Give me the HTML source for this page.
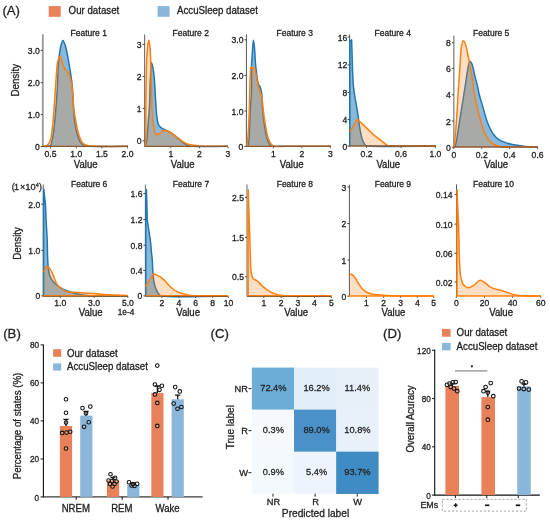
<!DOCTYPE html>
<html><head><meta charset="utf-8"><style>html,body{margin:0;padding:0;background:#fff;}svg{display:block;}.wrap{filter:blur(0.35px);width:550px;height:522px;overflow:hidden;}</style></head><body><div class="wrap">
<svg width="550" height="522" viewBox="0 0 550 522" font-family='"Liberation Sans", sans-serif'>
<rect width="550" height="522" fill="#fff"/>
<text transform="translate(2.40,14.60) scale(1,1.000)" font-size="13.20" text-anchor="start" fill="#222" stroke="#222" stroke-width="0.28" >(A)</text>
<text transform="translate(3.20,338.10) scale(1,1.000)" font-size="13.20" text-anchor="start" fill="#222" stroke="#222" stroke-width="0.28" >(B)</text>
<text transform="translate(210.50,338.10) scale(1,1.000)" font-size="13.20" text-anchor="start" fill="#222" stroke="#222" stroke-width="0.28" >(C)</text>
<text transform="translate(383.10,338.10) scale(1,1.000)" font-size="13.20" text-anchor="start" fill="#222" stroke="#222" stroke-width="0.28" >(D)</text>
<rect x="48.7" y="6.1" width="12" height="10.7" fill="#e8815a"/>
<text transform="translate(68.60,14.00) scale(1,1.050)" font-size="9.70" text-anchor="start" fill="#222" stroke="#222" stroke-width="0.28" >Our dataset</text>
<rect x="157.6" y="6.1" width="12" height="10.7" fill="#8ab6da"/>
<text transform="translate(177.00,14.00) scale(1,1.050)" font-size="9.70" text-anchor="start" fill="#222" stroke="#222" stroke-width="0.28" >AccuSleep dataset</text>
<text transform="translate(18.90,80.30) rotate(-90) scale(1,1.080)" font-size="9.80" text-anchor="middle" fill="#222" stroke="#222" stroke-width="0.28">Density</text>
<text transform="translate(20.70,243.40) rotate(-90) scale(1,1.080)" font-size="9.80" text-anchor="middle" fill="#222" stroke="#222" stroke-width="0.28">Density</text>
<text transform="translate(11.80,190.00) scale(1,1.050)" font-size="8.80" text-anchor="start" fill="#222" stroke="#222" stroke-width="0.28" >(</text>
<text transform="translate(14.00,190.00) scale(1,1.050)" font-size="9.00" text-anchor="start" fill="#222" stroke="#222" stroke-width="0.28" >1</text>
<text transform="translate(20.00,190.00) scale(1,1.050)" font-size="9.00" text-anchor="start" fill="#222" stroke="#222" stroke-width="0.28" >×</text>
<text transform="translate(25.30,190.00) scale(1,1.050)" font-size="9.40" text-anchor="start" fill="#222" stroke="#222" stroke-width="0.28" >10</text>
<text transform="translate(35.90,187.00) scale(1,1.050)" font-size="4.80" text-anchor="start" fill="#222" stroke="#222" stroke-width="0.28" >4</text>
<text transform="translate(39.00,190.00) scale(1,1.050)" font-size="8.80" text-anchor="start" fill="#222" stroke="#222" stroke-width="0.28" >)</text>
<text transform="translate(117.80,315.30) scale(1,1.100)" font-size="8.20" text-anchor="start" fill="#222" stroke="#222" stroke-width="0.28" >1e-4</text>
<line x1="42.80" y1="34.30" x2="42.80" y2="146.80" stroke="#9a9a9a" stroke-width="1.80"/>
<path d="M43.50,146.30 C43.50,146.30 48.88,146.80 50.30,145.70 C51.57,144.72 51.58,142.63 52.10,140.60 C52.82,137.77 53.29,134.11 53.80,130.20 C54.46,125.19 54.97,119.15 55.50,113.00 C56.11,105.89 56.69,98.11 57.20,90.00 C57.77,80.90 57.92,69.03 58.70,61.00 C59.26,55.26 59.87,50.04 60.80,46.30 C61.40,43.89 62.12,40.53 62.90,40.50 C63.69,40.47 64.77,44.09 65.50,46.30 C66.41,49.04 66.90,52.22 67.60,55.80 C68.50,60.39 69.56,66.86 70.30,71.60 C70.90,75.45 71.38,78.43 71.80,82.10 C72.26,86.10 72.53,89.77 72.90,94.70 C73.42,101.68 73.56,112.72 74.50,120.00 C75.22,125.62 76.14,130.66 77.40,134.80 C78.36,137.96 79.38,141.01 80.80,142.90 C81.82,144.25 82.89,145.12 84.30,145.70 C85.89,146.35 87.26,146.16 90.00,146.30 C97.07,146.67 128.00,146.30 128.00,146.30 L128.00,146.30 L43.50,146.30 Z" fill="rgba(31,119,180,0.52)" stroke="none"/>
<path d="M43.50,146.30 C43.50,146.30 48.88,146.80 50.30,145.70 C51.57,144.72 51.58,142.63 52.10,140.60 C52.82,137.77 53.29,134.11 53.80,130.20 C54.46,125.19 54.97,119.15 55.50,113.00 C56.11,105.89 56.69,98.11 57.20,90.00 C57.77,80.90 57.92,69.03 58.70,61.00 C59.26,55.26 59.87,50.04 60.80,46.30 C61.40,43.89 62.12,40.53 62.90,40.50 C63.69,40.47 64.77,44.09 65.50,46.30 C66.41,49.04 66.90,52.22 67.60,55.80 C68.50,60.39 69.56,66.86 70.30,71.60 C70.90,75.45 71.38,78.43 71.80,82.10 C72.26,86.10 72.53,89.77 72.90,94.70 C73.42,101.68 73.56,112.72 74.50,120.00 C75.22,125.62 76.14,130.66 77.40,134.80 C78.36,137.96 79.38,141.01 80.80,142.90 C81.82,144.25 82.89,145.12 84.30,145.70 C85.89,146.35 87.26,146.16 90.00,146.30 C97.07,146.67 128.00,146.30 128.00,146.30" fill="none" stroke="#1f77b4" stroke-width="1.5" stroke-linejoin="round"/>
<path d="M43.40,146.30 C43.40,146.30 45.86,146.37 46.90,145.70 C48.26,144.82 49.46,142.71 50.30,140.60 C51.40,137.83 51.57,134.11 52.10,130.20 C52.78,125.19 53.32,118.83 53.80,113.00 C54.29,107.00 54.68,99.42 55.00,94.70 C55.20,91.72 55.30,90.30 55.50,87.40 C55.79,83.14 56.20,76.20 56.60,71.60 C56.91,68.03 56.91,64.83 57.60,62.10 C58.16,59.88 59.14,56.28 60.00,56.30 C61.18,56.33 62.24,64.33 63.90,67.40 C65.26,69.92 67.61,71.74 68.70,73.70 C69.52,75.18 69.84,76.23 70.30,77.90 C70.94,80.20 71.37,83.49 71.80,86.30 C72.23,89.09 72.65,91.75 72.90,94.70 C73.18,97.95 72.94,101.26 73.30,105.00 C73.74,109.52 74.71,115.04 75.60,119.90 C76.46,124.60 77.20,129.62 78.50,133.70 C79.60,137.14 80.57,140.89 82.50,142.90 C84.05,144.51 86.23,145.13 88.30,145.70 C90.45,146.29 92.04,146.16 95.20,146.30 C102.07,146.60 128.00,146.30 128.00,146.30 L128.00,146.30 L43.40,146.30 Z" fill="rgba(255,127,14,0.25)" stroke="none"/>
<path d="M43.40,146.30 C43.40,146.30 45.86,146.37 46.90,145.70 C48.26,144.82 49.46,142.71 50.30,140.60 C51.40,137.83 51.57,134.11 52.10,130.20 C52.78,125.19 53.32,118.83 53.80,113.00 C54.29,107.00 54.68,99.42 55.00,94.70 C55.20,91.72 55.30,90.30 55.50,87.40 C55.79,83.14 56.20,76.20 56.60,71.60 C56.91,68.03 56.91,64.83 57.60,62.10 C58.16,59.88 59.14,56.28 60.00,56.30 C61.18,56.33 62.24,64.33 63.90,67.40 C65.26,69.92 67.61,71.74 68.70,73.70 C69.52,75.18 69.84,76.23 70.30,77.90 C70.94,80.20 71.37,83.49 71.80,86.30 C72.23,89.09 72.65,91.75 72.90,94.70 C73.18,97.95 72.94,101.26 73.30,105.00 C73.74,109.52 74.71,115.04 75.60,119.90 C76.46,124.60 77.20,129.62 78.50,133.70 C79.60,137.14 80.57,140.89 82.50,142.90 C84.05,144.51 86.23,145.13 88.30,145.70 C90.45,146.29 92.04,146.16 95.20,146.30 C102.07,146.60 128.00,146.30 128.00,146.30" fill="none" stroke="#ff7f0e" stroke-width="1.5" stroke-linejoin="round"/>
<line x1="42.80" y1="146.30" x2="128.00" y2="146.30" stroke="#8f5a32" stroke-width="1.3"/>
<line x1="40.80" y1="146.50" x2="42.80" y2="146.50" stroke="#444" stroke-width="1"/>
<text transform="translate(39.80,150.00) scale(1,1.150)" font-size="8.60" text-anchor="end" fill="#222" stroke="#222" stroke-width="0.28" >0</text>
<line x1="40.80" y1="114.50" x2="42.80" y2="114.50" stroke="#444" stroke-width="1"/>
<text transform="translate(39.80,118.00) scale(1,1.150)" font-size="8.60" text-anchor="end" fill="#222" stroke="#222" stroke-width="0.28" >1.0</text>
<line x1="40.80" y1="82.60" x2="42.80" y2="82.60" stroke="#444" stroke-width="1"/>
<text transform="translate(39.80,86.10) scale(1,1.150)" font-size="8.60" text-anchor="end" fill="#222" stroke="#222" stroke-width="0.28" >2.0</text>
<line x1="40.80" y1="50.40" x2="42.80" y2="50.40" stroke="#444" stroke-width="1"/>
<text transform="translate(39.80,53.90) scale(1,1.150)" font-size="8.60" text-anchor="end" fill="#222" stroke="#222" stroke-width="0.28" >3.0</text>
<line x1="50.50" y1="146.90" x2="50.50" y2="148.30" stroke="#555" stroke-width="1"/>
<text transform="translate(50.50,157.20) scale(1,1.120)" font-size="8.60" text-anchor="middle" fill="#222" stroke="#222" stroke-width="0.28" >0.5</text>
<line x1="76.30" y1="146.90" x2="76.30" y2="148.30" stroke="#555" stroke-width="1"/>
<text transform="translate(76.30,157.20) scale(1,1.120)" font-size="8.60" text-anchor="middle" fill="#222" stroke="#222" stroke-width="0.28" >1.0</text>
<line x1="101.90" y1="146.90" x2="101.90" y2="148.30" stroke="#555" stroke-width="1"/>
<text transform="translate(101.90,157.20) scale(1,1.120)" font-size="8.60" text-anchor="middle" fill="#222" stroke="#222" stroke-width="0.28" >1.5</text>
<line x1="127.50" y1="146.90" x2="127.50" y2="148.30" stroke="#555" stroke-width="1"/>
<text transform="translate(127.50,157.20) scale(1,1.120)" font-size="8.60" text-anchor="middle" fill="#222" stroke="#222" stroke-width="0.28" >2.0</text>
<text transform="translate(70.60,36.00) scale(1,1.080)" font-size="8.50" text-anchor="start" fill="#222" stroke="#222" stroke-width="0.28" >Feature 1</text>
<text transform="translate(73.80,168.20) scale(1,1.050)" font-size="9.60" text-anchor="start" fill="#222" stroke="#222" stroke-width="0.28" >Value</text>
<line x1="144.60" y1="34.40" x2="144.60" y2="146.80" stroke="#777777" stroke-width="1.20"/>
<path d="M145.20,146.30 C145.20,146.30 145.97,144.80 146.30,143.40 C147.06,140.14 147.39,132.52 147.90,126.60 C148.47,119.97 149.11,112.87 149.50,105.50 C149.93,97.41 149.92,87.71 150.30,80.00 C150.62,73.59 150.80,62.47 151.50,62.40 C151.92,62.36 152.66,66.27 153.10,68.60 C153.65,71.52 153.94,74.64 154.30,78.60 C154.82,84.35 155.15,93.21 155.60,99.80 C155.99,105.56 156.21,111.48 156.80,116.00 C157.23,119.30 157.43,122.45 158.40,124.50 C159.06,125.90 159.97,126.74 161.00,127.60 C162.06,128.48 163.31,128.98 164.70,129.70 C166.40,130.58 168.66,131.31 170.50,132.40 C172.36,133.51 173.85,134.75 175.80,136.30 C178.37,138.34 182.13,142.12 184.50,143.70 C185.93,144.66 186.93,145.17 188.20,145.60 C189.43,146.02 190.08,146.12 192.00,146.30 C197.87,146.84 228.00,146.30 228.00,146.30 L228.00,146.30 L145.20,146.30 Z" fill="rgba(31,119,180,0.52)" stroke="none"/>
<path d="M145.20,146.30 C145.20,146.30 145.97,144.80 146.30,143.40 C147.06,140.14 147.39,132.52 147.90,126.60 C148.47,119.97 149.11,112.87 149.50,105.50 C149.93,97.41 149.92,87.71 150.30,80.00 C150.62,73.59 150.80,62.47 151.50,62.40 C151.92,62.36 152.66,66.27 153.10,68.60 C153.65,71.52 153.94,74.64 154.30,78.60 C154.82,84.35 155.15,93.21 155.60,99.80 C155.99,105.56 156.21,111.48 156.80,116.00 C157.23,119.30 157.43,122.45 158.40,124.50 C159.06,125.90 159.97,126.74 161.00,127.60 C162.06,128.48 163.31,128.98 164.70,129.70 C166.40,130.58 168.66,131.31 170.50,132.40 C172.36,133.51 173.85,134.75 175.80,136.30 C178.37,138.34 182.13,142.12 184.50,143.70 C185.93,144.66 186.93,145.17 188.20,145.60 C189.43,146.02 190.08,146.12 192.00,146.30 C197.87,146.84 228.00,146.30 228.00,146.30" fill="none" stroke="#1f77b4" stroke-width="1.5" stroke-linejoin="round"/>
<path d="M145.40,146.30 C145.40,146.30 145.70,141.18 145.80,137.00 C146.00,128.33 145.79,107.52 145.90,97.00 C145.97,90.14 146.05,86.28 146.20,80.00 C146.39,72.19 146.43,61.04 147.00,53.70 C147.41,48.38 148.12,40.01 148.70,40.00 C149.13,39.99 149.66,44.26 150.00,47.50 C150.62,53.37 150.71,63.90 151.00,72.40 C151.31,81.31 151.60,92.72 151.80,99.80 C151.93,104.29 151.84,106.81 152.10,110.80 C152.41,115.60 153.00,122.45 153.70,126.60 C154.16,129.36 154.54,131.98 155.30,133.40 C155.73,134.20 156.19,134.91 156.80,135.00 C157.54,135.10 158.48,134.04 159.50,133.40 C160.86,132.55 162.50,130.49 164.20,130.30 C165.99,130.10 168.02,131.46 170.00,132.50 C172.37,133.74 174.88,135.82 177.30,137.50 C179.71,139.18 182.14,141.35 184.50,142.60 C186.49,143.66 188.21,144.26 190.40,144.80 C192.99,145.44 196.03,145.65 199.10,145.90 C202.52,146.18 205.91,146.23 210.00,146.30 C215.25,146.40 228.00,146.30 228.00,146.30 L228.00,146.30 L145.40,146.30 Z" fill="rgba(255,127,14,0.25)" stroke="none"/>
<path d="M145.40,146.30 C145.40,146.30 145.70,141.18 145.80,137.00 C146.00,128.33 145.79,107.52 145.90,97.00 C145.97,90.14 146.05,86.28 146.20,80.00 C146.39,72.19 146.43,61.04 147.00,53.70 C147.41,48.38 148.12,40.01 148.70,40.00 C149.13,39.99 149.66,44.26 150.00,47.50 C150.62,53.37 150.71,63.90 151.00,72.40 C151.31,81.31 151.60,92.72 151.80,99.80 C151.93,104.29 151.84,106.81 152.10,110.80 C152.41,115.60 153.00,122.45 153.70,126.60 C154.16,129.36 154.54,131.98 155.30,133.40 C155.73,134.20 156.19,134.91 156.80,135.00 C157.54,135.10 158.48,134.04 159.50,133.40 C160.86,132.55 162.50,130.49 164.20,130.30 C165.99,130.10 168.02,131.46 170.00,132.50 C172.37,133.74 174.88,135.82 177.30,137.50 C179.71,139.18 182.14,141.35 184.50,142.60 C186.49,143.66 188.21,144.26 190.40,144.80 C192.99,145.44 196.03,145.65 199.10,145.90 C202.52,146.18 205.91,146.23 210.00,146.30 C215.25,146.40 228.00,146.30 228.00,146.30" fill="none" stroke="#ff7f0e" stroke-width="1.5" stroke-linejoin="round"/>
<line x1="144.60" y1="146.30" x2="228.00" y2="146.30" stroke="#8f5a32" stroke-width="1.3"/>
<line x1="142.60" y1="140.80" x2="144.60" y2="140.80" stroke="#444" stroke-width="1"/>
<text transform="translate(141.60,144.30) scale(1,1.150)" font-size="8.60" text-anchor="end" fill="#222" stroke="#222" stroke-width="0.28" >0</text>
<line x1="142.60" y1="108.40" x2="144.60" y2="108.40" stroke="#444" stroke-width="1"/>
<text transform="translate(141.60,111.90) scale(1,1.150)" font-size="8.60" text-anchor="end" fill="#222" stroke="#222" stroke-width="0.28" >1</text>
<line x1="142.60" y1="76.60" x2="144.60" y2="76.60" stroke="#444" stroke-width="1"/>
<text transform="translate(141.60,80.10) scale(1,1.150)" font-size="8.60" text-anchor="end" fill="#222" stroke="#222" stroke-width="0.28" >2</text>
<line x1="142.60" y1="44.40" x2="144.60" y2="44.40" stroke="#444" stroke-width="1"/>
<text transform="translate(141.60,47.90) scale(1,1.150)" font-size="8.60" text-anchor="end" fill="#222" stroke="#222" stroke-width="0.28" >3</text>
<line x1="170.80" y1="146.90" x2="170.80" y2="148.30" stroke="#555" stroke-width="1"/>
<text transform="translate(170.80,157.20) scale(1,1.120)" font-size="8.60" text-anchor="middle" fill="#222" stroke="#222" stroke-width="0.28" >1</text>
<line x1="199.50" y1="146.90" x2="199.50" y2="148.30" stroke="#555" stroke-width="1"/>
<text transform="translate(199.50,157.20) scale(1,1.120)" font-size="8.60" text-anchor="middle" fill="#222" stroke="#222" stroke-width="0.28" >2</text>
<line x1="228.00" y1="146.90" x2="228.00" y2="148.30" stroke="#555" stroke-width="1"/>
<text transform="translate(228.00,157.20) scale(1,1.120)" font-size="8.60" text-anchor="middle" fill="#222" stroke="#222" stroke-width="0.28" >3</text>
<text transform="translate(172.60,36.00) scale(1,1.080)" font-size="8.50" text-anchor="start" fill="#222" stroke="#222" stroke-width="0.28" >Feature 2</text>
<text transform="translate(170.80,168.20) scale(1,1.050)" font-size="9.60" text-anchor="start" fill="#222" stroke="#222" stroke-width="0.28" >Value</text>
<line x1="246.40" y1="34.40" x2="246.40" y2="146.80" stroke="#555555" stroke-width="1.00"/>
<path d="M248.00,146.30 C248.00,146.30 248.72,142.45 249.00,139.40 C249.55,133.46 249.66,121.49 250.10,113.00 C250.51,105.07 251.26,97.75 251.50,90.00 C251.74,82.09 251.28,72.90 251.50,66.00 C251.67,60.76 252.07,56.64 252.40,52.20 C252.71,48.06 252.99,40.22 253.40,40.20 C253.70,40.19 254.11,43.88 254.40,46.50 C254.88,50.81 255.05,58.69 255.50,63.70 C255.85,67.61 256.22,70.65 256.70,74.10 C257.18,77.55 257.49,82.26 258.40,84.40 C258.87,85.52 259.62,85.63 260.10,86.70 C260.92,88.52 261.41,91.80 261.80,94.80 C262.27,98.48 262.02,102.60 262.40,107.20 C262.88,113.00 263.80,121.15 264.70,126.80 C265.39,131.16 266.06,135.17 267.00,138.30 C267.68,140.57 268.25,142.66 269.30,144.00 C270.10,145.02 270.91,145.66 272.20,146.10 C274.10,146.74 276.26,146.25 280.00,146.30 C289.56,146.42 331.00,146.30 331.00,146.30 L331.00,146.30 L248.00,146.30 Z" fill="rgba(31,119,180,0.52)" stroke="none"/>
<path d="M248.00,146.30 C248.00,146.30 248.72,142.45 249.00,139.40 C249.55,133.46 249.66,121.49 250.10,113.00 C250.51,105.07 251.26,97.75 251.50,90.00 C251.74,82.09 251.28,72.90 251.50,66.00 C251.67,60.76 252.07,56.64 252.40,52.20 C252.71,48.06 252.99,40.22 253.40,40.20 C253.70,40.19 254.11,43.88 254.40,46.50 C254.88,50.81 255.05,58.69 255.50,63.70 C255.85,67.61 256.22,70.65 256.70,74.10 C257.18,77.55 257.49,82.26 258.40,84.40 C258.87,85.52 259.62,85.63 260.10,86.70 C260.92,88.52 261.41,91.80 261.80,94.80 C262.27,98.48 262.02,102.60 262.40,107.20 C262.88,113.00 263.80,121.15 264.70,126.80 C265.39,131.16 266.06,135.17 267.00,138.30 C267.68,140.57 268.25,142.66 269.30,144.00 C270.10,145.02 270.91,145.66 272.20,146.10 C274.10,146.74 276.26,146.25 280.00,146.30 C289.56,146.42 331.00,146.30 331.00,146.30" fill="none" stroke="#1f77b4" stroke-width="1.5" stroke-linejoin="round"/>
<path d="M246.90,146.30 C246.90,146.30 247.67,140.12 248.00,136.00 C248.49,129.86 248.85,121.62 249.20,113.00 C249.65,101.96 249.69,83.13 250.30,75.20 C250.58,71.54 250.27,67.90 251.30,67.20 C251.86,66.82 253.01,67.46 253.60,67.80 C254.08,68.08 254.38,68.31 254.70,68.90 C255.35,70.09 255.68,73.14 256.10,75.20 C256.51,77.17 256.82,79.08 257.20,81.00 C257.58,82.91 257.86,84.73 258.40,86.70 C259.00,88.91 260.07,91.72 260.70,93.60 C261.13,94.90 261.46,95.36 261.80,96.90 C262.53,100.22 262.90,107.74 263.60,113.00 C264.27,118.07 265.05,123.39 265.90,127.90 C266.61,131.69 267.18,135.40 268.20,138.30 C268.98,140.54 269.78,142.67 271.00,144.00 C271.98,145.07 272.94,145.65 274.50,146.10 C277.00,146.82 280.26,146.25 285.00,146.30 C294.91,146.39 331.00,146.30 331.00,146.30 L331.00,146.30 L246.90,146.30 Z" fill="rgba(255,127,14,0.25)" stroke="none"/>
<path d="M246.90,146.30 C246.90,146.30 247.67,140.12 248.00,136.00 C248.49,129.86 248.85,121.62 249.20,113.00 C249.65,101.96 249.69,83.13 250.30,75.20 C250.58,71.54 250.27,67.90 251.30,67.20 C251.86,66.82 253.01,67.46 253.60,67.80 C254.08,68.08 254.38,68.31 254.70,68.90 C255.35,70.09 255.68,73.14 256.10,75.20 C256.51,77.17 256.82,79.08 257.20,81.00 C257.58,82.91 257.86,84.73 258.40,86.70 C259.00,88.91 260.07,91.72 260.70,93.60 C261.13,94.90 261.46,95.36 261.80,96.90 C262.53,100.22 262.90,107.74 263.60,113.00 C264.27,118.07 265.05,123.39 265.90,127.90 C266.61,131.69 267.18,135.40 268.20,138.30 C268.98,140.54 269.78,142.67 271.00,144.00 C271.98,145.07 272.94,145.65 274.50,146.10 C277.00,146.82 280.26,146.25 285.00,146.30 C294.91,146.39 331.00,146.30 331.00,146.30" fill="none" stroke="#ff7f0e" stroke-width="1.5" stroke-linejoin="round"/>
<line x1="246.40" y1="146.30" x2="331.00" y2="146.30" stroke="#8f5a32" stroke-width="1.3"/>
<line x1="244.40" y1="146.40" x2="246.40" y2="146.40" stroke="#444" stroke-width="1"/>
<text transform="translate(243.40,149.90) scale(1,1.150)" font-size="8.60" text-anchor="end" fill="#222" stroke="#222" stroke-width="0.28" >0</text>
<line x1="244.40" y1="111.00" x2="246.40" y2="111.00" stroke="#444" stroke-width="1"/>
<text transform="translate(243.40,114.50) scale(1,1.150)" font-size="8.60" text-anchor="end" fill="#222" stroke="#222" stroke-width="0.28" >1.0</text>
<line x1="244.40" y1="75.40" x2="246.40" y2="75.40" stroke="#444" stroke-width="1"/>
<text transform="translate(243.40,78.90) scale(1,1.150)" font-size="8.60" text-anchor="end" fill="#222" stroke="#222" stroke-width="0.28" >2.0</text>
<line x1="244.40" y1="39.80" x2="246.40" y2="39.80" stroke="#444" stroke-width="1"/>
<text transform="translate(243.40,43.30) scale(1,1.150)" font-size="8.60" text-anchor="end" fill="#222" stroke="#222" stroke-width="0.28" >3.0</text>
<line x1="273.30" y1="146.90" x2="273.30" y2="148.30" stroke="#555" stroke-width="1"/>
<text transform="translate(273.30,157.20) scale(1,1.120)" font-size="8.60" text-anchor="middle" fill="#222" stroke="#222" stroke-width="0.28" >1</text>
<line x1="301.80" y1="146.90" x2="301.80" y2="148.30" stroke="#555" stroke-width="1"/>
<text transform="translate(301.80,157.20) scale(1,1.120)" font-size="8.60" text-anchor="middle" fill="#222" stroke="#222" stroke-width="0.28" >2</text>
<line x1="330.40" y1="146.90" x2="330.40" y2="148.30" stroke="#555" stroke-width="1"/>
<text transform="translate(330.40,157.20) scale(1,1.120)" font-size="8.60" text-anchor="middle" fill="#222" stroke="#222" stroke-width="0.28" >3</text>
<text transform="translate(276.60,36.00) scale(1,1.080)" font-size="8.50" text-anchor="start" fill="#222" stroke="#222" stroke-width="0.28" >Feature 3</text>
<text transform="translate(279.80,168.20) scale(1,1.050)" font-size="9.60" text-anchor="start" fill="#222" stroke="#222" stroke-width="0.28" >Value</text>
<line x1="349.60" y1="34.50" x2="349.60" y2="146.50" stroke="#555555" stroke-width="1.00"/>
<path d="M349.80,146.00 L349.80,41.00 L351.60,39.80 C351.60,39.80 351.94,49.79 352.10,55.00 C352.27,60.51 352.38,66.71 352.60,72.00 C352.79,76.62 353.30,85.00 353.30,85.00 C353.30,85.00 354.10,91.76 354.60,95.00 C355.07,98.08 355.66,100.78 356.20,104.00 C356.82,107.71 357.49,111.95 358.10,116.00 C358.72,120.15 359.16,124.54 359.90,128.60 C360.60,132.46 361.25,136.77 362.40,139.80 C363.26,142.06 364.29,144.48 365.50,145.40 C366.26,145.98 366.58,145.83 368.00,146.00 C375.28,146.86 436.00,146.00 436.00,146.00 L436.00,146.00 L349.80,146.00 Z" fill="rgba(31,119,180,0.52)" stroke="none"/>
<path d="M349.80,146.00 L349.80,41.00 L351.60,39.80 C351.60,39.80 351.94,49.79 352.10,55.00 C352.27,60.51 352.38,66.71 352.60,72.00 C352.79,76.62 353.30,85.00 353.30,85.00 C353.30,85.00 354.10,91.76 354.60,95.00 C355.07,98.08 355.66,100.78 356.20,104.00 C356.82,107.71 357.49,111.95 358.10,116.00 C358.72,120.15 359.16,124.54 359.90,128.60 C360.60,132.46 361.25,136.77 362.40,139.80 C363.26,142.06 364.29,144.48 365.50,145.40 C366.26,145.98 366.58,145.83 368.00,146.00 C375.28,146.86 436.00,146.00 436.00,146.00" fill="none" stroke="#1f77b4" stroke-width="1.5" stroke-linejoin="round"/>
<path d="M350.00,131.70 L357.40,119.20 L373.40,134.60 L387.50,145.60 C387.50,145.60 394.62,145.92 399.80,146.00 C408.69,146.14 436.00,146.00 436.00,146.00 L436.00,146.00 L350.00,146.00 Z" fill="rgba(255,127,14,0.25)" stroke="none"/>
<path d="M350.00,131.70 L357.40,119.20 L373.40,134.60 L387.50,145.60 C387.50,145.60 394.62,145.92 399.80,146.00 C408.69,146.14 436.00,146.00 436.00,146.00" fill="none" stroke="#ff7f0e" stroke-width="1.5" stroke-linejoin="round"/>
<line x1="349.60" y1="146.00" x2="436.00" y2="146.00" stroke="#8f5a32" stroke-width="1.3"/>
<line x1="347.60" y1="146.00" x2="349.60" y2="146.00" stroke="#444" stroke-width="1"/>
<text transform="translate(347.40,149.50) scale(1,1.150)" font-size="8.60" text-anchor="end" fill="#222" stroke="#222" stroke-width="0.28" >0</text>
<line x1="347.60" y1="119.50" x2="349.60" y2="119.50" stroke="#444" stroke-width="1"/>
<text transform="translate(347.40,123.00) scale(1,1.150)" font-size="8.60" text-anchor="end" fill="#222" stroke="#222" stroke-width="0.28" >4</text>
<line x1="347.60" y1="92.60" x2="349.60" y2="92.60" stroke="#444" stroke-width="1"/>
<text transform="translate(347.40,96.10) scale(1,1.150)" font-size="8.60" text-anchor="end" fill="#222" stroke="#222" stroke-width="0.28" >8</text>
<line x1="347.60" y1="64.90" x2="349.60" y2="64.90" stroke="#444" stroke-width="1"/>
<text transform="translate(347.40,68.40) scale(1,1.150)" font-size="8.60" text-anchor="end" fill="#222" stroke="#222" stroke-width="0.28" >12</text>
<line x1="347.60" y1="37.00" x2="349.60" y2="37.00" stroke="#444" stroke-width="1"/>
<text transform="translate(347.40,40.50) scale(1,1.150)" font-size="8.60" text-anchor="end" fill="#222" stroke="#222" stroke-width="0.28" >16</text>
<line x1="366.60" y1="146.60" x2="366.60" y2="148.00" stroke="#555" stroke-width="1"/>
<text transform="translate(366.60,156.90) scale(1,1.120)" font-size="8.60" text-anchor="middle" fill="#222" stroke="#222" stroke-width="0.28" >0.2</text>
<line x1="401.00" y1="146.60" x2="401.00" y2="148.00" stroke="#555" stroke-width="1"/>
<text transform="translate(401.00,156.90) scale(1,1.120)" font-size="8.60" text-anchor="middle" fill="#222" stroke="#222" stroke-width="0.28" >0.6</text>
<line x1="435.40" y1="146.60" x2="435.40" y2="148.00" stroke="#555" stroke-width="1"/>
<text transform="translate(435.40,156.90) scale(1,1.120)" font-size="8.60" text-anchor="middle" fill="#222" stroke="#222" stroke-width="0.28" >1.0</text>
<text transform="translate(374.60,36.00) scale(1,1.080)" font-size="8.50" text-anchor="start" fill="#222" stroke="#222" stroke-width="0.28" >Feature 4</text>
<text transform="translate(376.40,168.20) scale(1,1.050)" font-size="9.60" text-anchor="start" fill="#222" stroke="#222" stroke-width="0.28" >Value</text>
<line x1="453.80" y1="35.60" x2="453.80" y2="147.50" stroke="#999999" stroke-width="1.60"/>
<path d="M454.50,147.00 C454.50,147.00 455.16,146.03 455.50,145.00 C456.45,142.14 457.47,134.16 458.50,128.00 C459.72,120.69 461.08,111.64 462.30,104.00 C463.41,97.03 464.50,90.30 465.50,84.00 C466.39,78.37 467.12,72.19 468.00,68.00 C468.58,65.24 468.97,61.38 469.80,61.20 C470.36,61.08 471.19,62.47 471.80,63.70 C472.97,66.07 473.73,71.37 474.70,75.20 C475.67,79.03 476.79,83.19 477.60,86.70 C478.28,89.63 478.57,91.87 479.30,94.80 C480.19,98.34 481.46,102.21 482.70,106.40 C484.18,111.37 485.65,117.82 487.60,122.70 C489.29,126.95 491.21,131.17 493.40,134.20 C495.14,136.60 496.85,138.41 499.10,139.90 C501.45,141.46 504.30,142.29 507.30,143.20 C510.75,144.25 514.75,144.98 518.70,145.60 C522.90,146.26 528.24,146.81 531.80,147.00 C534.24,147.13 538.00,147.00 538.00,147.00 L538.00,147.00 L454.50,147.00 Z" fill="rgba(31,119,180,0.52)" stroke="none"/>
<path d="M454.50,147.00 C454.50,147.00 455.16,146.03 455.50,145.00 C456.45,142.14 457.47,134.16 458.50,128.00 C459.72,120.69 461.08,111.64 462.30,104.00 C463.41,97.03 464.50,90.30 465.50,84.00 C466.39,78.37 467.12,72.19 468.00,68.00 C468.58,65.24 468.97,61.38 469.80,61.20 C470.36,61.08 471.19,62.47 471.80,63.70 C472.97,66.07 473.73,71.37 474.70,75.20 C475.67,79.03 476.79,83.19 477.60,86.70 C478.28,89.63 478.57,91.87 479.30,94.80 C480.19,98.34 481.46,102.21 482.70,106.40 C484.18,111.37 485.65,117.82 487.60,122.70 C489.29,126.95 491.21,131.17 493.40,134.20 C495.14,136.60 496.85,138.41 499.10,139.90 C501.45,141.46 504.30,142.29 507.30,143.20 C510.75,144.25 514.75,144.98 518.70,145.60 C522.90,146.26 528.24,146.81 531.80,147.00 C534.24,147.13 538.00,147.00 538.00,147.00" fill="none" stroke="#1f77b4" stroke-width="1.5" stroke-linejoin="round"/>
<path d="M454.10,147.00 C454.10,147.00 455.20,136.83 455.70,130.90 C456.32,123.59 457.00,113.06 457.40,106.40 C457.68,101.82 457.75,98.83 458.00,94.80 C458.27,90.40 458.67,85.86 459.00,81.00 C459.37,75.56 459.68,69.46 460.10,63.70 C460.52,57.96 460.72,50.68 461.50,46.50 C461.96,44.02 462.44,40.81 463.20,40.70 C463.83,40.61 464.84,42.65 465.50,44.20 C466.54,46.66 467.05,50.97 467.80,54.50 C468.59,58.22 469.35,62.07 470.10,66.00 C470.89,70.12 471.71,74.21 472.40,78.70 C473.17,83.74 473.55,89.89 474.40,94.80 C475.13,99.00 476.00,102.21 477.00,106.40 C478.18,111.38 479.61,117.77 481.10,122.70 C482.37,126.90 483.45,130.79 485.20,134.20 C486.78,137.28 488.51,140.33 490.90,142.40 C493.19,144.38 496.08,145.71 499.10,146.50 C502.39,147.36 505.52,146.90 510.00,147.00 C517.17,147.16 538.00,147.00 538.00,147.00 L538.00,147.00 L454.10,147.00 Z" fill="rgba(255,127,14,0.25)" stroke="none"/>
<path d="M454.10,147.00 C454.10,147.00 455.20,136.83 455.70,130.90 C456.32,123.59 457.00,113.06 457.40,106.40 C457.68,101.82 457.75,98.83 458.00,94.80 C458.27,90.40 458.67,85.86 459.00,81.00 C459.37,75.56 459.68,69.46 460.10,63.70 C460.52,57.96 460.72,50.68 461.50,46.50 C461.96,44.02 462.44,40.81 463.20,40.70 C463.83,40.61 464.84,42.65 465.50,44.20 C466.54,46.66 467.05,50.97 467.80,54.50 C468.59,58.22 469.35,62.07 470.10,66.00 C470.89,70.12 471.71,74.21 472.40,78.70 C473.17,83.74 473.55,89.89 474.40,94.80 C475.13,99.00 476.00,102.21 477.00,106.40 C478.18,111.38 479.61,117.77 481.10,122.70 C482.37,126.90 483.45,130.79 485.20,134.20 C486.78,137.28 488.51,140.33 490.90,142.40 C493.19,144.38 496.08,145.71 499.10,146.50 C502.39,147.36 505.52,146.90 510.00,147.00 C517.17,147.16 538.00,147.00 538.00,147.00" fill="none" stroke="#ff7f0e" stroke-width="1.5" stroke-linejoin="round"/>
<line x1="453.80" y1="147.00" x2="538.00" y2="147.00" stroke="#8f5a32" stroke-width="1.3"/>
<line x1="451.80" y1="147.20" x2="453.80" y2="147.20" stroke="#444" stroke-width="1"/>
<text transform="translate(450.80,150.70) scale(1,1.150)" font-size="8.60" text-anchor="end" fill="#222" stroke="#222" stroke-width="0.28" >0</text>
<line x1="451.80" y1="121.00" x2="453.80" y2="121.00" stroke="#444" stroke-width="1"/>
<text transform="translate(450.80,124.50) scale(1,1.150)" font-size="8.60" text-anchor="end" fill="#222" stroke="#222" stroke-width="0.28" >2</text>
<line x1="451.80" y1="94.80" x2="453.80" y2="94.80" stroke="#444" stroke-width="1"/>
<text transform="translate(450.80,98.30) scale(1,1.150)" font-size="8.60" text-anchor="end" fill="#222" stroke="#222" stroke-width="0.28" >4</text>
<line x1="451.80" y1="68.40" x2="453.80" y2="68.40" stroke="#444" stroke-width="1"/>
<text transform="translate(450.80,71.90) scale(1,1.150)" font-size="8.60" text-anchor="end" fill="#222" stroke="#222" stroke-width="0.28" >6</text>
<line x1="451.80" y1="42.60" x2="453.80" y2="42.60" stroke="#444" stroke-width="1"/>
<text transform="translate(450.80,46.10) scale(1,1.150)" font-size="8.60" text-anchor="end" fill="#222" stroke="#222" stroke-width="0.28" >8</text>
<line x1="453.80" y1="147.60" x2="453.80" y2="149.00" stroke="#555" stroke-width="1"/>
<text transform="translate(453.80,157.90) scale(1,1.120)" font-size="8.60" text-anchor="middle" fill="#222" stroke="#222" stroke-width="0.28" >0</text>
<line x1="481.70" y1="147.60" x2="481.70" y2="149.00" stroke="#555" stroke-width="1"/>
<text transform="translate(481.70,157.90) scale(1,1.120)" font-size="8.60" text-anchor="middle" fill="#222" stroke="#222" stroke-width="0.28" >0.2</text>
<line x1="509.60" y1="147.60" x2="509.60" y2="149.00" stroke="#555" stroke-width="1"/>
<text transform="translate(509.60,157.90) scale(1,1.120)" font-size="8.60" text-anchor="middle" fill="#222" stroke="#222" stroke-width="0.28" >0.4</text>
<line x1="537.60" y1="147.60" x2="537.60" y2="149.00" stroke="#555" stroke-width="1"/>
<text transform="translate(537.60,157.90) scale(1,1.120)" font-size="8.60" text-anchor="middle" fill="#222" stroke="#222" stroke-width="0.28" >0.6</text>
<text transform="translate(473.00,36.00) scale(1,1.080)" font-size="8.50" text-anchor="start" fill="#222" stroke="#222" stroke-width="0.28" >Feature 5</text>
<text transform="translate(484.30,168.20) scale(1,1.050)" font-size="9.60" text-anchor="start" fill="#222" stroke="#222" stroke-width="0.28" >Value</text>
<line x1="43.30" y1="184.60" x2="43.30" y2="296.40" stroke="#777777" stroke-width="1.20"/>
<path d="M43.60,295.90 L43.60,192.00 L43.80,189.20 C43.80,189.20 44.17,192.79 44.40,195.00 C44.71,197.94 45.22,201.55 45.50,205.30 C45.83,209.80 45.84,214.89 46.10,220.20 C46.39,226.29 46.97,233.82 47.20,239.80 C47.40,244.83 47.34,249.20 47.50,253.70 C47.65,257.95 47.66,262.20 48.10,266.10 C48.50,269.63 48.81,273.25 49.90,276.10 C50.82,278.51 52.09,280.47 53.70,282.30 C55.39,284.22 57.65,285.86 59.90,287.30 C62.21,288.77 64.60,289.92 67.40,291.00 C70.71,292.28 74.74,293.40 78.60,294.20 C82.60,295.02 85.75,295.46 91.00,295.80 C100.03,296.39 128.00,295.90 128.00,295.90 L128.00,295.90 L43.60,295.90 Z" fill="rgba(31,119,180,0.52)" stroke="none"/>
<path d="M43.60,295.90 L43.60,192.00 L43.80,189.20 C43.80,189.20 44.17,192.79 44.40,195.00 C44.71,197.94 45.22,201.55 45.50,205.30 C45.83,209.80 45.84,214.89 46.10,220.20 C46.39,226.29 46.97,233.82 47.20,239.80 C47.40,244.83 47.34,249.20 47.50,253.70 C47.65,257.95 47.66,262.20 48.10,266.10 C48.50,269.63 48.81,273.25 49.90,276.10 C50.82,278.51 52.09,280.47 53.70,282.30 C55.39,284.22 57.65,285.86 59.90,287.30 C62.21,288.77 64.60,289.92 67.40,291.00 C70.71,292.28 74.74,293.40 78.60,294.20 C82.60,295.02 85.75,295.46 91.00,295.80 C100.03,296.39 128.00,295.90 128.00,295.90" fill="none" stroke="#1f77b4" stroke-width="1.5" stroke-linejoin="round"/>
<path d="M43.50,271.70 L46.80,266.10 C46.80,266.10 48.97,267.45 49.90,268.60 C51.14,270.13 52.05,272.57 53.10,274.90 C54.35,277.67 55.21,281.81 56.80,284.20 C58.05,286.07 59.50,287.28 61.20,288.50 C63.01,289.80 64.95,291.01 67.40,291.70 C70.51,292.57 74.52,292.23 78.60,292.50 C83.50,292.83 90.13,293.13 94.80,293.50 C98.36,293.78 100.38,294.13 104.20,294.40 C110.16,294.81 127.10,295.40 127.10,295.40 L127.10,295.90 L43.50,295.90 Z" fill="rgba(255,127,14,0.25)" stroke="none"/>
<path d="M43.50,271.70 L46.80,266.10 C46.80,266.10 48.97,267.45 49.90,268.60 C51.14,270.13 52.05,272.57 53.10,274.90 C54.35,277.67 55.21,281.81 56.80,284.20 C58.05,286.07 59.50,287.28 61.20,288.50 C63.01,289.80 64.95,291.01 67.40,291.70 C70.51,292.57 74.52,292.23 78.60,292.50 C83.50,292.83 90.13,293.13 94.80,293.50 C98.36,293.78 100.38,294.13 104.20,294.40 C110.16,294.81 127.10,295.40 127.10,295.40" fill="none" stroke="#ff7f0e" stroke-width="1.5" stroke-linejoin="round"/>
<line x1="43.30" y1="295.70" x2="128.00" y2="295.70" stroke="#ff7f0e" stroke-width="1.5"/>
<line x1="43.30" y1="296.40" x2="128.00" y2="296.40" stroke="#7a4a22" stroke-width="0.8"/>
<line x1="41.30" y1="295.90" x2="43.30" y2="295.90" stroke="#444" stroke-width="1"/>
<text transform="translate(40.30,299.40) scale(1,1.150)" font-size="8.60" text-anchor="end" fill="#222" stroke="#222" stroke-width="0.28" >0</text>
<line x1="41.30" y1="250.40" x2="43.30" y2="250.40" stroke="#444" stroke-width="1"/>
<text transform="translate(40.30,253.90) scale(1,1.150)" font-size="8.60" text-anchor="end" fill="#222" stroke="#222" stroke-width="0.28" >1.0</text>
<line x1="41.30" y1="204.20" x2="43.30" y2="204.20" stroke="#444" stroke-width="1"/>
<text transform="translate(40.30,207.70) scale(1,1.150)" font-size="8.60" text-anchor="end" fill="#222" stroke="#222" stroke-width="0.28" >2.0</text>
<line x1="60.30" y1="296.50" x2="60.30" y2="297.90" stroke="#555" stroke-width="1"/>
<text transform="translate(60.30,305.60) scale(1,1.120)" font-size="8.60" text-anchor="middle" fill="#222" stroke="#222" stroke-width="0.28" >1.0</text>
<line x1="94.10" y1="296.50" x2="94.10" y2="297.90" stroke="#555" stroke-width="1"/>
<text transform="translate(94.10,305.60) scale(1,1.120)" font-size="8.60" text-anchor="middle" fill="#222" stroke="#222" stroke-width="0.28" >3.0</text>
<line x1="127.90" y1="296.50" x2="127.90" y2="297.90" stroke="#555" stroke-width="1"/>
<text transform="translate(127.90,305.60) scale(1,1.120)" font-size="8.60" text-anchor="middle" fill="#222" stroke="#222" stroke-width="0.28" >5.0</text>
<text transform="translate(71.00,186.80) scale(1,1.080)" font-size="8.50" text-anchor="start" fill="#222" stroke="#222" stroke-width="0.28" >Feature 6</text>
<text transform="translate(78.80,315.60) scale(1,1.050)" font-size="9.60" text-anchor="start" fill="#222" stroke="#222" stroke-width="0.28" >Value</text>
<line x1="145.40" y1="184.60" x2="145.40" y2="296.40" stroke="#888888" stroke-width="1.20"/>
<path d="M145.80,295.90 L145.80,195.00 L146.40,189.60 C146.40,189.60 146.68,197.67 146.80,202.20 C146.95,207.51 147.20,219.50 147.20,219.50 C147.20,219.50 148.33,227.17 148.90,231.00 C149.47,234.83 150.16,238.75 150.60,242.50 C151.02,246.07 151.19,249.86 151.50,253.00 C151.76,255.57 152.09,257.41 152.30,260.00 C152.56,263.23 152.53,267.27 152.80,270.90 C153.07,274.54 153.27,278.52 153.90,281.80 C154.44,284.59 155.10,287.16 156.10,289.40 C156.99,291.39 158.19,293.63 159.40,294.70 C160.22,295.42 160.49,295.57 162.00,295.90 C169.24,297.49 228.00,295.90 228.00,295.90 L228.00,295.90 L145.80,295.90 Z" fill="rgba(31,119,180,0.52)" stroke="none"/>
<path d="M145.80,295.90 L145.80,195.00 L146.40,189.60 C146.40,189.60 146.68,197.67 146.80,202.20 C146.95,207.51 147.20,219.50 147.20,219.50 C147.20,219.50 148.33,227.17 148.90,231.00 C149.47,234.83 150.16,238.75 150.60,242.50 C151.02,246.07 151.19,249.86 151.50,253.00 C151.76,255.57 152.09,257.41 152.30,260.00 C152.56,263.23 152.53,267.27 152.80,270.90 C153.07,274.54 153.27,278.52 153.90,281.80 C154.44,284.59 155.10,287.16 156.10,289.40 C156.99,291.39 158.19,293.63 159.40,294.70 C160.22,295.42 160.49,295.57 162.00,295.90 C169.24,297.49 228.00,295.90 228.00,295.90" fill="none" stroke="#1f77b4" stroke-width="1.5" stroke-linejoin="round"/>
<path d="M145.40,286.70 L153.60,273.60 L160.40,276.90 C160.40,276.90 162.46,278.43 163.70,279.60 C165.57,281.36 167.91,284.59 170.30,286.70 C172.65,288.78 175.16,290.86 177.90,292.20 C180.60,293.51 183.68,294.10 186.60,294.70 C189.48,295.29 192.32,295.60 195.30,295.80 C198.44,296.01 201.08,295.88 205.00,295.90 C211.04,295.93 228.00,295.90 228.00,295.90 L228.00,295.90 L145.40,295.90 Z" fill="rgba(255,127,14,0.25)" stroke="none"/>
<path d="M145.40,286.70 L153.60,273.60 L160.40,276.90 C160.40,276.90 162.46,278.43 163.70,279.60 C165.57,281.36 167.91,284.59 170.30,286.70 C172.65,288.78 175.16,290.86 177.90,292.20 C180.60,293.51 183.68,294.10 186.60,294.70 C189.48,295.29 192.32,295.60 195.30,295.80 C198.44,296.01 201.08,295.88 205.00,295.90 C211.04,295.93 228.00,295.90 228.00,295.90" fill="none" stroke="#ff7f0e" stroke-width="1.5" stroke-linejoin="round"/>
<line x1="145.40" y1="295.70" x2="228.00" y2="295.70" stroke="#ff7f0e" stroke-width="1.5"/>
<line x1="145.40" y1="296.40" x2="228.00" y2="296.40" stroke="#7a4a22" stroke-width="0.8"/>
<line x1="143.40" y1="295.90" x2="145.40" y2="295.90" stroke="#444" stroke-width="1"/>
<text transform="translate(142.40,299.40) scale(1,1.150)" font-size="8.60" text-anchor="end" fill="#222" stroke="#222" stroke-width="0.28" >0</text>
<line x1="143.40" y1="270.50" x2="145.40" y2="270.50" stroke="#444" stroke-width="1"/>
<text transform="translate(142.40,274.00) scale(1,1.150)" font-size="8.60" text-anchor="end" fill="#222" stroke="#222" stroke-width="0.28" >0.4</text>
<line x1="143.40" y1="245.20" x2="145.40" y2="245.20" stroke="#444" stroke-width="1"/>
<text transform="translate(142.40,248.70) scale(1,1.150)" font-size="8.60" text-anchor="end" fill="#222" stroke="#222" stroke-width="0.28" >0.8</text>
<line x1="143.40" y1="219.60" x2="145.40" y2="219.60" stroke="#444" stroke-width="1"/>
<text transform="translate(142.40,223.10) scale(1,1.150)" font-size="8.60" text-anchor="end" fill="#222" stroke="#222" stroke-width="0.28" >1.2</text>
<line x1="143.40" y1="193.60" x2="145.40" y2="193.60" stroke="#444" stroke-width="1"/>
<text transform="translate(142.40,197.10) scale(1,1.150)" font-size="8.60" text-anchor="end" fill="#222" stroke="#222" stroke-width="0.28" >1.6</text>
<line x1="161.80" y1="296.50" x2="161.80" y2="297.90" stroke="#555" stroke-width="1"/>
<text transform="translate(161.80,305.60) scale(1,1.120)" font-size="8.60" text-anchor="middle" fill="#222" stroke="#222" stroke-width="0.28" >2</text>
<line x1="178.90" y1="296.50" x2="178.90" y2="297.90" stroke="#555" stroke-width="1"/>
<text transform="translate(178.90,305.60) scale(1,1.120)" font-size="8.60" text-anchor="middle" fill="#222" stroke="#222" stroke-width="0.28" >4</text>
<line x1="195.70" y1="296.50" x2="195.70" y2="297.90" stroke="#555" stroke-width="1"/>
<text transform="translate(195.70,305.60) scale(1,1.120)" font-size="8.60" text-anchor="middle" fill="#222" stroke="#222" stroke-width="0.28" >6</text>
<line x1="212.70" y1="296.50" x2="212.70" y2="297.90" stroke="#555" stroke-width="1"/>
<text transform="translate(212.70,305.60) scale(1,1.120)" font-size="8.60" text-anchor="middle" fill="#222" stroke="#222" stroke-width="0.28" >8</text>
<line x1="228.50" y1="296.50" x2="228.50" y2="297.90" stroke="#555" stroke-width="1"/>
<text transform="translate(228.50,305.60) scale(1,1.120)" font-size="8.60" text-anchor="middle" fill="#222" stroke="#222" stroke-width="0.28" >10</text>
<text transform="translate(172.80,186.80) scale(1,1.080)" font-size="8.50" text-anchor="start" fill="#222" stroke="#222" stroke-width="0.28" >Feature 7</text>
<text transform="translate(176.20,315.60) scale(1,1.050)" font-size="9.60" text-anchor="start" fill="#222" stroke="#222" stroke-width="0.28" >Value</text>
<line x1="247.00" y1="184.60" x2="247.00" y2="296.50" stroke="#aaaaaa" stroke-width="1.80"/>
<path d="M248.10,296.00 L248.10,196.00 L248.20,189.80 C248.20,189.80 248.58,202.09 248.80,208.70 C249.04,215.99 249.35,224.12 249.60,231.70 C249.85,239.11 250.02,246.67 250.30,253.70 C250.56,260.19 250.41,267.88 251.20,272.40 C251.66,275.06 251.93,277.13 253.10,278.60 C254.12,279.89 255.98,280.01 257.40,281.10 C259.09,282.40 260.50,284.45 262.40,286.10 C264.59,287.99 267.20,290.22 269.90,291.70 C272.60,293.18 275.46,294.28 278.60,295.00 C282.05,295.79 284.88,295.78 289.80,296.00 C299.28,296.42 331.50,296.00 331.50,296.00 L331.50,296.00 L248.10,296.00 Z" fill="rgba(255,127,14,0.25)" stroke="none"/>
<path d="M248.10,296.00 L248.10,196.00 L248.20,189.80 C248.20,189.80 248.58,202.09 248.80,208.70 C249.04,215.99 249.35,224.12 249.60,231.70 C249.85,239.11 250.02,246.67 250.30,253.70 C250.56,260.19 250.41,267.88 251.20,272.40 C251.66,275.06 251.93,277.13 253.10,278.60 C254.12,279.89 255.98,280.01 257.40,281.10 C259.09,282.40 260.50,284.45 262.40,286.10 C264.59,287.99 267.20,290.22 269.90,291.70 C272.60,293.18 275.46,294.28 278.60,295.00 C282.05,295.79 284.88,295.78 289.80,296.00 C299.28,296.42 331.50,296.00 331.50,296.00" fill="none" stroke="#ff7f0e" stroke-width="1.5" stroke-linejoin="round"/>
<line x1="247.00" y1="295.80" x2="331.50" y2="295.80" stroke="#ff7f0e" stroke-width="1.5"/>
<line x1="247.00" y1="296.50" x2="331.50" y2="296.50" stroke="#7a4a22" stroke-width="0.8"/>
<line x1="245.00" y1="276.80" x2="247.00" y2="276.80" stroke="#444" stroke-width="1"/>
<text transform="translate(244.00,280.30) scale(1,1.150)" font-size="8.60" text-anchor="end" fill="#222" stroke="#222" stroke-width="0.28" >0.5</text>
<line x1="245.00" y1="237.40" x2="247.00" y2="237.40" stroke="#444" stroke-width="1"/>
<text transform="translate(244.00,240.90) scale(1,1.150)" font-size="8.60" text-anchor="end" fill="#222" stroke="#222" stroke-width="0.28" >1.5</text>
<line x1="245.00" y1="197.40" x2="247.00" y2="197.40" stroke="#444" stroke-width="1"/>
<text transform="translate(244.00,200.90) scale(1,1.150)" font-size="8.60" text-anchor="end" fill="#222" stroke="#222" stroke-width="0.28" >2.5</text>
<line x1="263.80" y1="296.60" x2="263.80" y2="298.00" stroke="#555" stroke-width="1"/>
<text transform="translate(263.80,305.70) scale(1,1.120)" font-size="8.60" text-anchor="middle" fill="#222" stroke="#222" stroke-width="0.28" >1</text>
<line x1="281.20" y1="296.60" x2="281.20" y2="298.00" stroke="#555" stroke-width="1"/>
<text transform="translate(281.20,305.70) scale(1,1.120)" font-size="8.60" text-anchor="middle" fill="#222" stroke="#222" stroke-width="0.28" >2</text>
<line x1="297.80" y1="296.60" x2="297.80" y2="298.00" stroke="#555" stroke-width="1"/>
<text transform="translate(297.80,305.70) scale(1,1.120)" font-size="8.60" text-anchor="middle" fill="#222" stroke="#222" stroke-width="0.28" >3</text>
<line x1="314.50" y1="296.60" x2="314.50" y2="298.00" stroke="#555" stroke-width="1"/>
<text transform="translate(314.50,305.70) scale(1,1.120)" font-size="8.60" text-anchor="middle" fill="#222" stroke="#222" stroke-width="0.28" >4</text>
<line x1="331.30" y1="296.60" x2="331.30" y2="298.00" stroke="#555" stroke-width="1"/>
<text transform="translate(331.30,305.70) scale(1,1.120)" font-size="8.60" text-anchor="middle" fill="#222" stroke="#222" stroke-width="0.28" >5</text>
<text transform="translate(276.70,186.80) scale(1,1.080)" font-size="8.50" text-anchor="start" fill="#222" stroke="#222" stroke-width="0.28" >Feature 8</text>
<text transform="translate(284.30,315.60) scale(1,1.050)" font-size="9.60" text-anchor="start" fill="#222" stroke="#222" stroke-width="0.28" >Value</text>
<line x1="349.40" y1="184.60" x2="349.40" y2="296.40" stroke="#555555" stroke-width="1.00"/>
<path d="M349.60,274.00 C349.60,274.00 352.00,274.44 353.10,275.30 C354.67,276.53 355.96,279.47 357.40,281.60 C358.86,283.77 360.20,286.39 361.80,288.20 C363.17,289.75 364.48,291.02 366.20,292.00 C368.07,293.07 370.22,293.67 372.70,294.20 C375.83,294.86 379.59,294.93 383.60,295.20 C388.51,295.53 393.55,295.76 400.00,295.90 C409.29,296.10 434.00,295.90 434.00,295.90 L434.00,295.90 L349.60,295.90 Z" fill="rgba(255,127,14,0.25)" stroke="none"/>
<path d="M349.60,274.00 C349.60,274.00 352.00,274.44 353.10,275.30 C354.67,276.53 355.96,279.47 357.40,281.60 C358.86,283.77 360.20,286.39 361.80,288.20 C363.17,289.75 364.48,291.02 366.20,292.00 C368.07,293.07 370.22,293.67 372.70,294.20 C375.83,294.86 379.59,294.93 383.60,295.20 C388.51,295.53 393.55,295.76 400.00,295.90 C409.29,296.10 434.00,295.90 434.00,295.90" fill="none" stroke="#ff7f0e" stroke-width="1.5" stroke-linejoin="round"/>
<line x1="349.40" y1="295.90" x2="434.00" y2="295.90" stroke="#ff7f0e" stroke-width="1.5"/>
<line x1="347.40" y1="296.20" x2="349.40" y2="296.20" stroke="#444" stroke-width="1"/>
<text transform="translate(346.40,299.70) scale(1,1.150)" font-size="8.60" text-anchor="end" fill="#222" stroke="#222" stroke-width="0.28" >0</text>
<line x1="347.40" y1="260.00" x2="349.40" y2="260.00" stroke="#444" stroke-width="1"/>
<text transform="translate(346.40,263.50) scale(1,1.150)" font-size="8.60" text-anchor="end" fill="#222" stroke="#222" stroke-width="0.28" >1</text>
<line x1="347.40" y1="223.50" x2="349.40" y2="223.50" stroke="#444" stroke-width="1"/>
<text transform="translate(346.40,227.00) scale(1,1.150)" font-size="8.60" text-anchor="end" fill="#222" stroke="#222" stroke-width="0.28" >2</text>
<line x1="347.40" y1="187.00" x2="349.40" y2="187.00" stroke="#444" stroke-width="1"/>
<text transform="translate(346.40,190.50) scale(1,1.150)" font-size="8.60" text-anchor="end" fill="#222" stroke="#222" stroke-width="0.28" >3</text>
<line x1="366.50" y1="296.50" x2="366.50" y2="297.90" stroke="#555" stroke-width="1"/>
<text transform="translate(366.50,305.60) scale(1,1.120)" font-size="8.60" text-anchor="middle" fill="#222" stroke="#222" stroke-width="0.28" >1</text>
<line x1="383.60" y1="296.50" x2="383.60" y2="297.90" stroke="#555" stroke-width="1"/>
<text transform="translate(383.60,305.60) scale(1,1.120)" font-size="8.60" text-anchor="middle" fill="#222" stroke="#222" stroke-width="0.28" >2</text>
<line x1="400.70" y1="296.50" x2="400.70" y2="297.90" stroke="#555" stroke-width="1"/>
<text transform="translate(400.70,305.60) scale(1,1.120)" font-size="8.60" text-anchor="middle" fill="#222" stroke="#222" stroke-width="0.28" >3</text>
<line x1="417.30" y1="296.50" x2="417.30" y2="297.90" stroke="#555" stroke-width="1"/>
<text transform="translate(417.30,305.60) scale(1,1.120)" font-size="8.60" text-anchor="middle" fill="#222" stroke="#222" stroke-width="0.28" >4</text>
<line x1="433.70" y1="296.50" x2="433.70" y2="297.90" stroke="#555" stroke-width="1"/>
<text transform="translate(433.70,305.60) scale(1,1.120)" font-size="8.60" text-anchor="middle" fill="#222" stroke="#222" stroke-width="0.28" >5</text>
<text transform="translate(374.70,186.80) scale(1,1.080)" font-size="8.50" text-anchor="start" fill="#222" stroke="#222" stroke-width="0.28" >Feature 9</text>
<text transform="translate(381.60,315.60) scale(1,1.050)" font-size="9.60" text-anchor="start" fill="#222" stroke="#222" stroke-width="0.28" >Value</text>
<line x1="456.50" y1="184.40" x2="456.50" y2="296.40" stroke="#555555" stroke-width="1.00"/>
<path d="M457.00,295.90 L457.00,195.00 L457.10,189.80 C457.10,189.80 457.54,202.54 457.80,208.70 C458.05,214.59 458.36,219.23 458.60,226.00 C458.95,235.61 459.02,251.58 459.50,260.90 C459.82,267.14 459.91,272.24 460.70,276.50 C461.27,279.55 461.61,282.29 463.00,284.20 C464.22,285.87 466.27,287.52 468.10,287.70 C469.99,287.89 472.25,286.27 474.20,285.10 C476.30,283.85 478.31,280.49 480.20,280.30 C481.70,280.15 482.94,281.53 484.50,282.50 C486.60,283.80 488.80,286.38 491.50,287.70 C494.49,289.17 498.72,289.65 501.80,290.60 C504.34,291.38 506.40,292.15 508.70,292.90 C511.00,293.65 512.94,294.60 515.60,295.10 C519.04,295.75 523.57,295.76 527.70,295.90 C532.03,296.04 541.00,295.90 541.00,295.90 L541.00,295.90 L457.00,295.90 Z" fill="rgba(255,127,14,0.25)" stroke="none"/>
<path d="M457.00,295.90 L457.00,195.00 L457.10,189.80 C457.10,189.80 457.54,202.54 457.80,208.70 C458.05,214.59 458.36,219.23 458.60,226.00 C458.95,235.61 459.02,251.58 459.50,260.90 C459.82,267.14 459.91,272.24 460.70,276.50 C461.27,279.55 461.61,282.29 463.00,284.20 C464.22,285.87 466.27,287.52 468.10,287.70 C469.99,287.89 472.25,286.27 474.20,285.10 C476.30,283.85 478.31,280.49 480.20,280.30 C481.70,280.15 482.94,281.53 484.50,282.50 C486.60,283.80 488.80,286.38 491.50,287.70 C494.49,289.17 498.72,289.65 501.80,290.60 C504.34,291.38 506.40,292.15 508.70,292.90 C511.00,293.65 512.94,294.60 515.60,295.10 C519.04,295.75 523.57,295.76 527.70,295.90 C532.03,296.04 541.00,295.90 541.00,295.90" fill="none" stroke="#ff7f0e" stroke-width="1.5" stroke-linejoin="round"/>
<line x1="456.50" y1="295.90" x2="541.00" y2="295.90" stroke="#ff7f0e" stroke-width="1.5"/>
<line x1="454.50" y1="282.00" x2="456.50" y2="282.00" stroke="#444" stroke-width="1"/>
<text transform="translate(452.50,285.50) scale(1,1.150)" font-size="8.60" text-anchor="end" fill="#222" stroke="#222" stroke-width="0.28" >0.02</text>
<line x1="454.50" y1="253.30" x2="456.50" y2="253.30" stroke="#444" stroke-width="1"/>
<text transform="translate(452.50,256.80) scale(1,1.150)" font-size="8.60" text-anchor="end" fill="#222" stroke="#222" stroke-width="0.28" >0.06</text>
<line x1="454.50" y1="224.10" x2="456.50" y2="224.10" stroke="#444" stroke-width="1"/>
<text transform="translate(452.50,227.60) scale(1,1.150)" font-size="8.60" text-anchor="end" fill="#222" stroke="#222" stroke-width="0.28" >0.10</text>
<line x1="454.50" y1="194.60" x2="456.50" y2="194.60" stroke="#444" stroke-width="1"/>
<text transform="translate(452.50,198.10) scale(1,1.150)" font-size="8.60" text-anchor="end" fill="#222" stroke="#222" stroke-width="0.28" >0.14</text>
<line x1="456.40" y1="296.50" x2="456.40" y2="297.90" stroke="#555" stroke-width="1"/>
<text transform="translate(456.40,305.60) scale(1,1.120)" font-size="8.60" text-anchor="middle" fill="#222" stroke="#222" stroke-width="0.28" >0</text>
<line x1="484.50" y1="296.50" x2="484.50" y2="297.90" stroke="#555" stroke-width="1"/>
<text transform="translate(484.50,305.60) scale(1,1.120)" font-size="8.60" text-anchor="middle" fill="#222" stroke="#222" stroke-width="0.28" >20</text>
<line x1="512.50" y1="296.50" x2="512.50" y2="297.90" stroke="#555" stroke-width="1"/>
<text transform="translate(512.50,305.60) scale(1,1.120)" font-size="8.60" text-anchor="middle" fill="#222" stroke="#222" stroke-width="0.28" >40</text>
<line x1="540.80" y1="296.50" x2="540.80" y2="297.90" stroke="#555" stroke-width="1"/>
<text transform="translate(540.80,305.60) scale(1,1.120)" font-size="8.60" text-anchor="middle" fill="#222" stroke="#222" stroke-width="0.28" >60</text>
<text transform="translate(473.00,186.80) scale(1,1.080)" font-size="8.50" text-anchor="start" fill="#222" stroke="#222" stroke-width="0.28" >Feature 10</text>
<text transform="translate(489.20,315.60) scale(1,1.050)" font-size="9.60" text-anchor="start" fill="#222" stroke="#222" stroke-width="0.28" >Value</text>
<line x1="43.4" y1="344.4" x2="43.4" y2="497.4" stroke="#111" stroke-width="1.1"/>
<line x1="42.9" y1="496.9" x2="202.6" y2="496.9" stroke="#3a3a3a" stroke-width="1.4"/>
<line x1="40.6" y1="496.90" x2="43.4" y2="496.90" stroke="#111" stroke-width="1"/>
<text transform="translate(39.00,500.80) scale(1,1.050)" font-size="8.20" text-anchor="end" fill="#222" stroke="#222" stroke-width="0.28" >0</text>
<line x1="40.6" y1="458.90" x2="43.4" y2="458.90" stroke="#111" stroke-width="1"/>
<text transform="translate(39.00,461.80) scale(1,1.050)" font-size="8.20" text-anchor="end" fill="#222" stroke="#222" stroke-width="0.28" >20</text>
<line x1="40.6" y1="420.90" x2="43.4" y2="420.90" stroke="#111" stroke-width="1"/>
<text transform="translate(39.00,423.80) scale(1,1.050)" font-size="8.20" text-anchor="end" fill="#222" stroke="#222" stroke-width="0.28" >40</text>
<line x1="40.6" y1="382.90" x2="43.4" y2="382.90" stroke="#111" stroke-width="1"/>
<text transform="translate(39.00,385.80) scale(1,1.050)" font-size="8.20" text-anchor="end" fill="#222" stroke="#222" stroke-width="0.28" >60</text>
<line x1="40.6" y1="344.90" x2="43.4" y2="344.90" stroke="#111" stroke-width="1"/>
<text transform="translate(39.00,347.80) scale(1,1.050)" font-size="8.20" text-anchor="end" fill="#222" stroke="#222" stroke-width="0.28" >80</text>
<line x1="76.20" y1="496.9" x2="76.20" y2="499.8" stroke="#111" stroke-width="1"/>
<text transform="translate(75.80,512.10) scale(1,1.050)" font-size="9.60" text-anchor="middle" fill="#222" stroke="#222" stroke-width="0.28" >NREM</text>
<line x1="122.20" y1="496.9" x2="122.20" y2="499.8" stroke="#111" stroke-width="1"/>
<text transform="translate(121.80,512.10) scale(1,1.050)" font-size="9.60" text-anchor="middle" fill="#222" stroke="#222" stroke-width="0.28" >REM</text>
<line x1="168.00" y1="496.9" x2="168.00" y2="499.8" stroke="#111" stroke-width="1"/>
<text transform="translate(167.60,512.10) scale(1,1.050)" font-size="9.60" text-anchor="middle" fill="#222" stroke="#222" stroke-width="0.28" >Wake</text>
<text transform="translate(21.30,426.00) rotate(-90) scale(1,1.050)" font-size="9.70" text-anchor="middle" fill="#222" stroke="#222" stroke-width="0.28">Percentage of states (%)</text>
<rect x="59.90" y="426.00" width="12.2" height="70.90" fill="#e8815a"/>
<rect x="80.20" y="415.60" width="12.2" height="81.30" fill="#8ab6da"/>
<rect x="107.00" y="480.40" width="12.2" height="16.50" fill="#e8815a"/>
<rect x="127.20" y="484.80" width="12.2" height="12.10" fill="#8ab6da"/>
<rect x="151.30" y="392.90" width="12.2" height="104.00" fill="#e8815a"/>
<rect x="171.60" y="399.30" width="12.2" height="97.60" fill="#8ab6da"/>
<path d="M66.00,426.00 V419.40 M63.40,419.40 H68.60" stroke="#111" stroke-width="1.3" fill="none"/>
<path d="M86.00,415.60 V411.50 M83.40,411.50 H88.60" stroke="#111" stroke-width="1.3" fill="none"/>
<path d="M113.00,480.40 V477.50 M110.40,477.50 H115.60" stroke="#111" stroke-width="1.3" fill="none"/>
<path d="M133.20,484.80 V483.00 M130.60,483.00 H135.80" stroke="#111" stroke-width="1.3" fill="none"/>
<path d="M157.40,392.90 V386.00 M154.80,386.00 H160.00" stroke="#111" stroke-width="1.3" fill="none"/>
<path d="M177.70,399.30 V395.20 M175.10,395.20 H180.30" stroke="#111" stroke-width="1.3" fill="none"/>
<circle cx="66.00" cy="399.20" r="1.8" fill="#fff" fill-opacity="0.2" stroke="#111" stroke-width="1.05"/>
<circle cx="66.00" cy="412.70" r="1.8" fill="#fff" fill-opacity="0.2" stroke="#111" stroke-width="1.05"/>
<circle cx="66.00" cy="422.60" r="1.8" fill="#fff" fill-opacity="0.2" stroke="#111" stroke-width="1.05"/>
<circle cx="62.20" cy="432.90" r="1.8" fill="#fff" fill-opacity="0.2" stroke="#111" stroke-width="1.05"/>
<circle cx="66.50" cy="432.60" r="1.8" fill="#fff" fill-opacity="0.2" stroke="#111" stroke-width="1.05"/>
<circle cx="70.20" cy="431.70" r="1.8" fill="#fff" fill-opacity="0.2" stroke="#111" stroke-width="1.05"/>
<circle cx="66.00" cy="448.50" r="1.8" fill="#fff" fill-opacity="0.2" stroke="#111" stroke-width="1.05"/>
<circle cx="82.50" cy="408.10" r="1.8" fill="#fff" fill-opacity="0.2" stroke="#111" stroke-width="1.05"/>
<circle cx="90.30" cy="406.60" r="1.8" fill="#fff" fill-opacity="0.2" stroke="#111" stroke-width="1.05"/>
<circle cx="86.00" cy="413.30" r="1.8" fill="#fff" fill-opacity="0.2" stroke="#111" stroke-width="1.05"/>
<circle cx="88.70" cy="422.20" r="1.8" fill="#fff" fill-opacity="0.2" stroke="#111" stroke-width="1.05"/>
<circle cx="84.10" cy="426.80" r="1.8" fill="#fff" fill-opacity="0.2" stroke="#111" stroke-width="1.05"/>
<circle cx="110.50" cy="474.20" r="1.8" fill="#fff" fill-opacity="0.2" stroke="#111" stroke-width="1.05"/>
<circle cx="115.10" cy="477.70" r="1.8" fill="#fff" fill-opacity="0.2" stroke="#111" stroke-width="1.05"/>
<circle cx="108.50" cy="480.50" r="1.8" fill="#fff" fill-opacity="0.2" stroke="#111" stroke-width="1.05"/>
<circle cx="112.00" cy="481.00" r="1.8" fill="#fff" fill-opacity="0.2" stroke="#111" stroke-width="1.05"/>
<circle cx="116.50" cy="481.50" r="1.8" fill="#fff" fill-opacity="0.2" stroke="#111" stroke-width="1.05"/>
<circle cx="110.00" cy="484.00" r="1.8" fill="#fff" fill-opacity="0.2" stroke="#111" stroke-width="1.05"/>
<circle cx="114.50" cy="484.00" r="1.8" fill="#fff" fill-opacity="0.2" stroke="#111" stroke-width="1.05"/>
<circle cx="112.50" cy="486.50" r="1.8" fill="#fff" fill-opacity="0.2" stroke="#111" stroke-width="1.05"/>
<circle cx="129.00" cy="482.20" r="1.8" fill="#fff" fill-opacity="0.2" stroke="#111" stroke-width="1.05"/>
<circle cx="137.20" cy="483.80" r="1.8" fill="#fff" fill-opacity="0.2" stroke="#111" stroke-width="1.05"/>
<circle cx="131.50" cy="485.50" r="1.8" fill="#fff" fill-opacity="0.2" stroke="#111" stroke-width="1.05"/>
<circle cx="134.50" cy="486.00" r="1.8" fill="#fff" fill-opacity="0.2" stroke="#111" stroke-width="1.05"/>
<circle cx="133.00" cy="484.00" r="1.8" fill="#fff" fill-opacity="0.2" stroke="#111" stroke-width="1.05"/>
<circle cx="157.30" cy="365.60" r="1.8" fill="#fff" fill-opacity="0.2" stroke="#111" stroke-width="1.05"/>
<circle cx="154.90" cy="384.50" r="1.8" fill="#fff" fill-opacity="0.2" stroke="#111" stroke-width="1.05"/>
<circle cx="161.90" cy="385.70" r="1.8" fill="#fff" fill-opacity="0.2" stroke="#111" stroke-width="1.05"/>
<circle cx="159.50" cy="389.80" r="1.8" fill="#fff" fill-opacity="0.2" stroke="#111" stroke-width="1.05"/>
<circle cx="155.00" cy="394.40" r="1.8" fill="#fff" fill-opacity="0.2" stroke="#111" stroke-width="1.05"/>
<circle cx="157.30" cy="402.90" r="1.8" fill="#fff" fill-opacity="0.2" stroke="#111" stroke-width="1.05"/>
<circle cx="157.30" cy="425.90" r="1.8" fill="#fff" fill-opacity="0.2" stroke="#111" stroke-width="1.05"/>
<circle cx="175.20" cy="387.10" r="1.8" fill="#fff" fill-opacity="0.2" stroke="#111" stroke-width="1.05"/>
<circle cx="179.80" cy="391.40" r="1.8" fill="#fff" fill-opacity="0.2" stroke="#111" stroke-width="1.05"/>
<circle cx="173.70" cy="403.60" r="1.8" fill="#fff" fill-opacity="0.2" stroke="#111" stroke-width="1.05"/>
<circle cx="177.50" cy="408.70" r="1.8" fill="#fff" fill-opacity="0.2" stroke="#111" stroke-width="1.05"/>
<circle cx="181.40" cy="407.00" r="1.8" fill="#fff" fill-opacity="0.2" stroke="#111" stroke-width="1.05"/>
<rect x="53.1" y="349.2" width="8.1" height="7.6" fill="#e8815a"/>
<text transform="translate(67.00,356.60) scale(1,1.050)" font-size="9.70" text-anchor="start" fill="#222" stroke="#222" stroke-width="0.28" >Our dataset</text>
<rect x="53.1" y="363.4" width="8.1" height="7.2" fill="#8ab6da"/>
<text transform="translate(67.00,370.20) scale(1,1.050)" font-size="9.70" text-anchor="start" fill="#222" stroke="#222" stroke-width="0.28" >AccuSleep dataset</text>
<rect x="251.90" y="367.60" width="42.43" height="42.33" fill="#6badd6"/>
<text transform="translate(273.37,391.31) scale(1,1.050)" font-size="9.30" text-anchor="middle" fill="#222" stroke="#222" stroke-width="0.25" >72.4%</text>
<rect x="294.03" y="367.60" width="42.43" height="42.33" fill="#e1edf8"/>
<text transform="translate(316.60,391.31) scale(1,1.050)" font-size="9.30" text-anchor="middle" fill="#222" stroke="#222" stroke-width="0.25" >16.2%</text>
<rect x="336.16" y="367.60" width="42.43" height="42.33" fill="#e7f0f9"/>
<text transform="translate(357.43,391.31) scale(1,1.050)" font-size="9.30" text-anchor="middle" fill="#222" stroke="#222" stroke-width="0.25" >11.4%</text>
<rect x="251.90" y="409.63" width="42.43" height="42.33" fill="#f5f9fe"/>
<text transform="translate(273.37,433.34) scale(1,1.050)" font-size="9.30" text-anchor="middle" fill="#222" stroke="#222" stroke-width="0.25" >0.3%</text>
<rect x="294.03" y="409.63" width="42.43" height="42.33" fill="#4a91c9"/>
<text transform="translate(316.60,433.34) scale(1,1.050)" font-size="9.30" text-anchor="middle" fill="#222" stroke="#222" stroke-width="0.25" >89.0%</text>
<rect x="336.16" y="409.63" width="42.43" height="42.33" fill="#e8f1fa"/>
<text transform="translate(357.43,433.34) scale(1,1.050)" font-size="9.30" text-anchor="middle" fill="#222" stroke="#222" stroke-width="0.25" >10.8%</text>
<rect x="251.90" y="451.66" width="42.43" height="42.33" fill="#f4f9fe"/>
<text transform="translate(273.37,475.38) scale(1,1.050)" font-size="9.30" text-anchor="middle" fill="#222" stroke="#222" stroke-width="0.25" >0.9%</text>
<rect x="294.03" y="451.66" width="42.43" height="42.33" fill="#edf4fb"/>
<text transform="translate(316.60,475.38) scale(1,1.050)" font-size="9.30" text-anchor="middle" fill="#222" stroke="#222" stroke-width="0.25" >5.4%</text>
<rect x="336.16" y="451.66" width="42.43" height="42.33" fill="#3f8cc5"/>
<text transform="translate(357.43,475.38) scale(1,1.050)" font-size="9.30" text-anchor="middle" fill="#222" stroke="#222" stroke-width="0.25" >93.7%</text>
<line x1="248.40" y1="388.62" x2="251.40" y2="388.62" stroke="#222" stroke-width="1"/>
<text transform="translate(247.90,391.92) scale(1,1.050)" font-size="9.30" text-anchor="end" fill="#222" stroke="#222" stroke-width="0.28" >NR</text>
<line x1="248.40" y1="430.64" x2="251.40" y2="430.64" stroke="#222" stroke-width="1"/>
<text transform="translate(247.90,433.94) scale(1,1.050)" font-size="9.30" text-anchor="end" fill="#222" stroke="#222" stroke-width="0.28" >R</text>
<line x1="248.40" y1="472.68" x2="251.40" y2="472.68" stroke="#222" stroke-width="1"/>
<text transform="translate(247.90,475.98) scale(1,1.050)" font-size="9.30" text-anchor="end" fill="#222" stroke="#222" stroke-width="0.28" >W</text>
<line x1="272.97" y1="493.69" x2="272.97" y2="496.69" stroke="#222" stroke-width="1"/>
<text transform="translate(273.47,505.40) scale(1,1.050)" font-size="9.30" text-anchor="middle" fill="#222" stroke="#222" stroke-width="0.28" >NR</text>
<line x1="315.10" y1="493.69" x2="315.10" y2="496.69" stroke="#222" stroke-width="1"/>
<text transform="translate(315.60,505.40) scale(1,1.050)" font-size="9.30" text-anchor="middle" fill="#222" stroke="#222" stroke-width="0.28" >R</text>
<line x1="357.23" y1="493.69" x2="357.23" y2="496.69" stroke="#222" stroke-width="1"/>
<text transform="translate(357.73,505.40) scale(1,1.050)" font-size="9.30" text-anchor="middle" fill="#222" stroke="#222" stroke-width="0.28" >W</text>
<text transform="translate(315.50,516.50) scale(1,1.050)" font-size="10.20" text-anchor="middle" fill="#222" stroke="#222" stroke-width="0.28" >Predicted label</text>
<text transform="translate(233.80,427.20) rotate(-90) scale(1,1.050)" font-size="10.00" text-anchor="middle" fill="#222" stroke="#222" stroke-width="0.28">True label</text>
<line x1="434.7" y1="349.6" x2="434.7" y2="495.6" stroke="#111" stroke-width="1.1"/>
<line x1="434.2" y1="495.1" x2="539.8" y2="495.1" stroke="#111" stroke-width="1.1"/>
<line x1="432" y1="495.10" x2="434.7" y2="495.10" stroke="#111" stroke-width="1"/>
<text transform="translate(430.80,498.70) scale(1,1.200)" font-size="8.20" text-anchor="end" fill="#222" stroke="#222" stroke-width="0.28" >0</text>
<line x1="432" y1="446.83" x2="434.7" y2="446.83" stroke="#111" stroke-width="1"/>
<text transform="translate(430.80,450.43) scale(1,1.200)" font-size="8.20" text-anchor="end" fill="#222" stroke="#222" stroke-width="0.28" >40</text>
<line x1="432" y1="398.57" x2="434.7" y2="398.57" stroke="#111" stroke-width="1"/>
<text transform="translate(430.80,402.17) scale(1,1.200)" font-size="8.20" text-anchor="end" fill="#222" stroke="#222" stroke-width="0.28" >80</text>
<line x1="432" y1="350.30" x2="434.7" y2="350.30" stroke="#111" stroke-width="1"/>
<text transform="translate(430.80,353.90) scale(1,1.200)" font-size="8.20" text-anchor="end" fill="#222" stroke="#222" stroke-width="0.28" >120</text>
<line x1="455.40" y1="495.1" x2="455.40" y2="498" stroke="#111" stroke-width="1"/>
<line x1="486.80" y1="495.1" x2="486.80" y2="498" stroke="#111" stroke-width="1"/>
<line x1="518.30" y1="495.1" x2="518.30" y2="498" stroke="#111" stroke-width="1"/>
<rect x="445.40" y="385.90" width="13.6" height="109.20" fill="#e8815a"/>
<rect x="481.40" y="397.10" width="13.6" height="98.00" fill="#e8815a"/>
<rect x="517.20" y="386.40" width="13.6" height="108.70" fill="#8ab6da"/>
<path d="M452.20,385.90 V383.50 M449.80,383.50 H454.60" stroke="#111" stroke-width="1.3" fill="none"/>
<path d="M487.80,397.10 V391.50 M485.40,391.50 H490.20" stroke="#111" stroke-width="1.3" fill="none"/>
<path d="M524.00,386.40 V384.00 M521.60,384.00 H526.40" stroke="#111" stroke-width="1.3" fill="none"/>
<circle cx="447.00" cy="384.80" r="1.85" fill="#fff" fill-opacity="0.2" stroke="#111" stroke-width="1.05"/>
<circle cx="449.60" cy="383.50" r="1.85" fill="#fff" fill-opacity="0.2" stroke="#111" stroke-width="1.05"/>
<circle cx="452.90" cy="382.40" r="1.85" fill="#fff" fill-opacity="0.2" stroke="#111" stroke-width="1.05"/>
<circle cx="455.70" cy="382.00" r="1.85" fill="#fff" fill-opacity="0.2" stroke="#111" stroke-width="1.05"/>
<circle cx="450.70" cy="387.00" r="1.85" fill="#fff" fill-opacity="0.2" stroke="#111" stroke-width="1.05"/>
<circle cx="454.00" cy="388.50" r="1.85" fill="#fff" fill-opacity="0.2" stroke="#111" stroke-width="1.05"/>
<circle cx="457.30" cy="391.20" r="1.85" fill="#fff" fill-opacity="0.2" stroke="#111" stroke-width="1.05"/>
<circle cx="490.70" cy="383.10" r="1.85" fill="#fff" fill-opacity="0.2" stroke="#111" stroke-width="1.05"/>
<circle cx="485.60" cy="387.00" r="1.85" fill="#fff" fill-opacity="0.2" stroke="#111" stroke-width="1.05"/>
<circle cx="483.50" cy="391.20" r="1.85" fill="#fff" fill-opacity="0.2" stroke="#111" stroke-width="1.05"/>
<circle cx="487.80" cy="392.50" r="1.85" fill="#fff" fill-opacity="0.2" stroke="#111" stroke-width="1.05"/>
<circle cx="493.30" cy="396.20" r="1.85" fill="#fff" fill-opacity="0.2" stroke="#111" stroke-width="1.05"/>
<circle cx="487.80" cy="407.10" r="1.85" fill="#fff" fill-opacity="0.2" stroke="#111" stroke-width="1.05"/>
<circle cx="487.80" cy="419.70" r="1.85" fill="#fff" fill-opacity="0.2" stroke="#111" stroke-width="1.05"/>
<circle cx="521.60" cy="381.30" r="1.85" fill="#fff" fill-opacity="0.2" stroke="#111" stroke-width="1.05"/>
<circle cx="526.00" cy="382.40" r="1.85" fill="#fff" fill-opacity="0.2" stroke="#111" stroke-width="1.05"/>
<circle cx="519.00" cy="388.50" r="1.85" fill="#fff" fill-opacity="0.2" stroke="#111" stroke-width="1.05"/>
<circle cx="523.80" cy="389.00" r="1.85" fill="#fff" fill-opacity="0.2" stroke="#111" stroke-width="1.05"/>
<circle cx="528.80" cy="389.60" r="1.85" fill="#fff" fill-opacity="0.2" stroke="#111" stroke-width="1.05"/>
<line x1="455.0" y1="370.9" x2="487.3" y2="370.9" stroke="#8c8c8c" stroke-width="1.4"/>
<circle cx="471.9" cy="366.3" r="1.15" fill="#1a1a1a"/>
<rect x="442.0" y="328.9" width="8.6" height="7.8" fill="#e8815a"/>
<text transform="translate(456.60,336.30) scale(1,1.050)" font-size="9.70" text-anchor="start" fill="#222" stroke="#222" stroke-width="0.28" >Our dataset</text>
<rect x="442.0" y="342.9" width="8.6" height="7.4" fill="#8ab6da"/>
<text transform="translate(456.60,350.10) scale(1,1.050)" font-size="9.70" text-anchor="start" fill="#222" stroke="#222" stroke-width="0.28" >AccuSleep dataset</text>
<text transform="translate(414.40,419.00) rotate(-90) scale(1,1.050)" font-size="9.60" text-anchor="middle" fill="#222" stroke="#222" stroke-width="0.28">Overall Acuracy</text>
<text transform="translate(420.40,508.00) scale(1,1.050)" font-size="8.90" text-anchor="start" fill="#222" stroke="#222" stroke-width="0.28" >EMs</text>
<rect x="442.4" y="499.4" width="84.0" height="11.7" fill="none" stroke="#9a9a9a" stroke-width="0.9" stroke-dasharray="2.2,1.8"/>
<path d="M453.8,505.2 H457.6 M455.7,503.2 V507.3" stroke="#111" stroke-width="1.35" fill="none"/>
<line x1="485.1" y1="505.3" x2="489.3" y2="505.3" stroke="#111" stroke-width="1.7"/>
<line x1="515.8" y1="505.3" x2="520.2" y2="505.3" stroke="#111" stroke-width="1.7"/>
</svg>
</div></body></html>
